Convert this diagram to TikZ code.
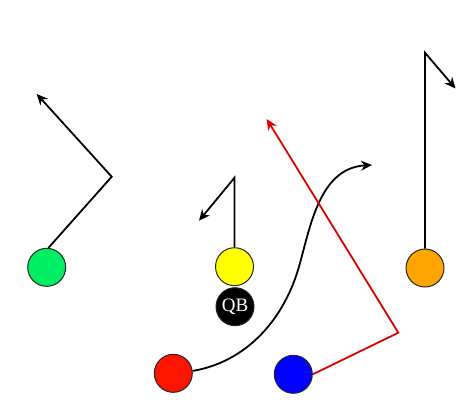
\documentclass[tikz,border=0pt]{standalone}
\usepackage{fontspec}
\setmainfont{Liberation Serif}
\usetikzlibrary{arrows.meta}
\definecolor{pgreen}{RGB}{0,238,100}
\definecolor{pyellow}{RGB}{255,255,0}
\definecolor{porange}{RGB}{255,165,0}
\definecolor{pred}{RGB}{255,20,0}
\definecolor{pblue}{RGB}{0,0,255}
\definecolor{routered}{RGB}{220,0,0}
\begin{document}
\begin{tikzpicture}[x=1bp,y=-1bp,
  player/.style={circle,draw=black!85,line width=1bp,minimum size=38bp,inner sep=0pt},
  route/.style={line width=1.8bp,-{Stealth[length=11bp,width=10bp]}}]
\useasboundingbox (0,0) rectangle (474,413);
\node[player,fill=pgreen] (g) at (46.7,267.3) {};
\node[player,fill=pyellow] (y) at (234.5,266.7) {};
\node[player,fill=black,text=white,font=\fontsize{19bp}{19bp}\selectfont] (qb) at (235,306.7) {QB};
\node[player,fill=porange] (o) at (425,268) {};
\node[player,fill=pred] (r) at (173.3,373.3) {};
\node[player,fill=pblue] (b) at (293.3,374.3) {};
\coordinate (g1) at (111.7,176.7);
\coordinate (g2) at (36.7,94);
\coordinate (y1) at (234.5,177.7);
\coordinate (y2) at (199,220.7);
\coordinate (o1) at (425,52.7);
\coordinate (o2) at (455.5,88.5);
\coordinate (r1) at (298,270);
\coordinate (r2) at (372,165);
\coordinate (b1) at (398.3,332.7);
\coordinate (b2) at (266.7,119);
\draw[route] (g.85) -- (g1) -- (g2);
\draw[route] (y.north) -- (y1) -- (y2);
\draw[route] (o.north) -- (o1) -- (o2);
\draw[route] (r.7) .. controls (245,362) and (282,322) .. (r1)
  .. controls (310,230) and (318,168) .. (r2);
\draw[route,draw=routered] (b.east) -- (b1) -- (b2);
\end{tikzpicture}
\end{document}
